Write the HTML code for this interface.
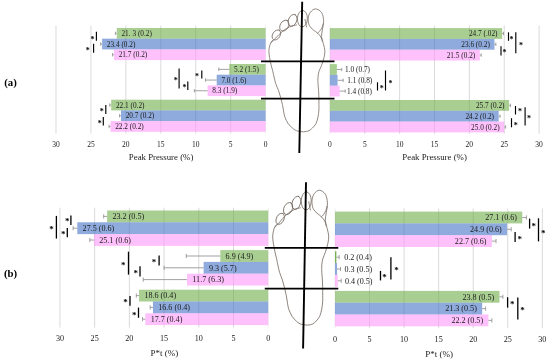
<!DOCTYPE html>
<html><head><meta charset="utf-8"><title>Figure</title>
<style>html,body{margin:0;padding:0;background:#fff}svg{display:block}text{font-family:"Liberation Serif",serif}</style></head><body>
<svg width="550" height="364" viewBox="0 0 550 364">
<rect width="550" height="364" fill="#fff"/>
<line x1="265.6" y1="25.5" x2="265.6" y2="133.5" stroke="#eeeeee" stroke-width="1"/>
<line x1="230.67" y1="25.5" x2="230.67" y2="133.5" stroke="#dadada" stroke-width="1"/>
<line x1="195.73" y1="25.5" x2="195.73" y2="133.5" stroke="#dadada" stroke-width="1"/>
<line x1="160.8" y1="25.5" x2="160.8" y2="133.5" stroke="#dadada" stroke-width="1"/>
<line x1="125.86" y1="25.5" x2="125.86" y2="133.5" stroke="#dadada" stroke-width="1"/>
<line x1="90.93" y1="25.5" x2="90.93" y2="133.5" stroke="#dadada" stroke-width="1"/>
<line x1="55.99" y1="25.5" x2="55.99" y2="133.5" stroke="#dadada" stroke-width="1"/>
<rect x="116.78" y="28" width="148.82" height="10.7" fill="#70ad47" fill-opacity="0.6"/>
<rect x="102.1" y="38.7" width="163.5" height="10.7" fill="#4472c4" fill-opacity="0.6"/>
<rect x="113.98" y="49.4" width="151.62" height="10.7" fill="#ff98fa" fill-opacity="0.6"/>
<rect x="229.27" y="64" width="36.33" height="10.7" fill="#70ad47" fill-opacity="0.6"/>
<rect x="216.69" y="74.7" width="48.91" height="10.7" fill="#4472c4" fill-opacity="0.6"/>
<rect x="207.61" y="85.4" width="57.99" height="10.7" fill="#ff98fa" fill-opacity="0.6"/>
<rect x="111.19" y="99.7" width="154.41" height="10.7" fill="#70ad47" fill-opacity="0.6"/>
<rect x="120.97" y="110.4" width="144.63" height="10.7" fill="#4472c4" fill-opacity="0.6"/>
<rect x="110.49" y="121.1" width="155.11" height="10.7" fill="#ff98fa" fill-opacity="0.6"/>
<path d="M116.78 33.35H115.38M115.38 31.65V35.05" stroke="#969696" stroke-width="0.9" fill="none"/>
<text x="121.48" y="35.88" font-size="7.67" textLength="30.41" lengthAdjust="spacingAndGlyphs" fill="#1a1a1a">21. 3 (0.2)</text>
<path d="M102.1 44.05H100.71M100.71 42.35V45.75" stroke="#969696" stroke-width="0.9" fill="none"/>
<text x="106.8" y="46.58" font-size="7.67" textLength="28.59" lengthAdjust="spacingAndGlyphs" fill="#1a1a1a">23.4 (0.2)</text>
<path d="M113.98 54.75H112.58M112.58 53.05V56.45" stroke="#969696" stroke-width="0.9" fill="none"/>
<text x="118.68" y="57.28" font-size="7.67" textLength="28.59" lengthAdjust="spacingAndGlyphs" fill="#1a1a1a">21.7 (0.2)</text>
<path d="M229.27 69.35H218.79M218.79 67.65V71.05" stroke="#969696" stroke-width="0.9" fill="none"/>
<text x="233.97" y="71.88" font-size="7.67" textLength="24.94" lengthAdjust="spacingAndGlyphs" fill="#1a1a1a">5.2 (1.5)</text>
<path d="M216.69 80.05H205.51M205.51 78.35V81.75" stroke="#969696" stroke-width="0.9" fill="none"/>
<text x="221.39" y="82.58" font-size="7.67" textLength="24.94" lengthAdjust="spacingAndGlyphs" fill="#1a1a1a">7.0 (1.6)</text>
<path d="M207.61 90.75H194.33M194.33 89.05V92.45" stroke="#969696" stroke-width="0.9" fill="none"/>
<text x="212.31" y="93.28" font-size="7.67" textLength="24.94" lengthAdjust="spacingAndGlyphs" fill="#1a1a1a">8.3 (1.9)</text>
<path d="M111.19 105.05H109.79M109.79 103.35V106.75" stroke="#969696" stroke-width="0.9" fill="none"/>
<text x="115.89" y="107.58" font-size="7.67" textLength="28.59" lengthAdjust="spacingAndGlyphs" fill="#1a1a1a">22.1 (0.2)</text>
<path d="M120.97 115.75H119.57M119.57 114.05V117.45" stroke="#969696" stroke-width="0.9" fill="none"/>
<text x="125.67" y="118.28" font-size="7.67" textLength="28.59" lengthAdjust="spacingAndGlyphs" fill="#1a1a1a">20.7 (0.2)</text>
<path d="M110.49 126.45H109.09M109.09 124.75V128.15" stroke="#969696" stroke-width="0.9" fill="none"/>
<text x="115.19" y="128.98" font-size="7.67" textLength="28.59" lengthAdjust="spacingAndGlyphs" fill="#1a1a1a">22.2 (0.2)</text>
<text x="265.6" y="146.67" font-size="7.5" text-anchor="middle" fill="#1a1a1a">0</text>
<text x="230.67" y="146.67" font-size="7.5" text-anchor="middle" fill="#1a1a1a">5</text>
<text x="195.73" y="146.67" font-size="7.5" text-anchor="middle" fill="#1a1a1a">10</text>
<text x="160.8" y="146.67" font-size="7.5" text-anchor="middle" fill="#1a1a1a">15</text>
<text x="125.86" y="146.67" font-size="7.5" text-anchor="middle" fill="#1a1a1a">20</text>
<text x="90.93" y="146.67" font-size="7.5" text-anchor="middle" fill="#1a1a1a">25</text>
<text x="55.99" y="146.67" font-size="7.5" text-anchor="middle" fill="#1a1a1a">30</text>
<text x="161.1" y="159.94" font-size="8.8" text-anchor="middle" fill="#1a1a1a">Peak Pressure (%)</text>
<line x1="329.9" y1="25.5" x2="329.9" y2="133.8" stroke="#eeeeee" stroke-width="1"/>
<line x1="364.76" y1="25.5" x2="364.76" y2="133.8" stroke="#dadada" stroke-width="1"/>
<line x1="399.63" y1="25.5" x2="399.63" y2="133.8" stroke="#dadada" stroke-width="1"/>
<line x1="434.5" y1="25.5" x2="434.5" y2="133.8" stroke="#dadada" stroke-width="1"/>
<line x1="469.36" y1="25.5" x2="469.36" y2="133.8" stroke="#dadada" stroke-width="1"/>
<line x1="504.22" y1="25.5" x2="504.22" y2="133.8" stroke="#dadada" stroke-width="1"/>
<line x1="539.09" y1="25.5" x2="539.09" y2="133.8" stroke="#dadada" stroke-width="1"/>
<rect x="329.9" y="28.1" width="172.23" height="10.8" fill="#70ad47" fill-opacity="0.6"/>
<rect x="329.9" y="38.9" width="164.56" height="10.8" fill="#4472c4" fill-opacity="0.6"/>
<rect x="329.9" y="49.7" width="149.92" height="10.8" fill="#ff98fa" fill-opacity="0.6"/>
<rect x="329.9" y="64.1" width="6.97" height="10.8" fill="#70ad47" fill-opacity="0.6"/>
<rect x="329.9" y="74.9" width="7.67" height="10.8" fill="#4472c4" fill-opacity="0.6"/>
<rect x="329.9" y="85.7" width="9.76" height="10.8" fill="#ff98fa" fill-opacity="0.6"/>
<rect x="329.9" y="100" width="179.21" height="10.8" fill="#70ad47" fill-opacity="0.6"/>
<rect x="329.9" y="110.8" width="168.75" height="10.8" fill="#4472c4" fill-opacity="0.6"/>
<rect x="329.9" y="121.6" width="174.32" height="10.8" fill="#ff98fa" fill-opacity="0.6"/>
<path d="M502.13 33.5H503.53M503.53 31.8V35.2" stroke="#969696" stroke-width="0.9" fill="none"/>
<text x="497.53" y="36.03" font-size="7.67" textLength="28.59" lengthAdjust="spacingAndGlyphs" text-anchor="end" fill="#1a1a1a">24.7 (.02)</text>
<path d="M494.46 44.3H495.86M495.86 42.6V46" stroke="#969696" stroke-width="0.9" fill="none"/>
<text x="489.86" y="46.83" font-size="7.67" textLength="28.59" lengthAdjust="spacingAndGlyphs" text-anchor="end" fill="#1a1a1a">23.6 (0.2)</text>
<path d="M479.82 55.1H481.21M481.21 53.4V56.8" stroke="#969696" stroke-width="0.9" fill="none"/>
<text x="475.22" y="57.63" font-size="7.67" textLength="28.59" lengthAdjust="spacingAndGlyphs" text-anchor="end" fill="#1a1a1a">21.5 (0.2)</text>
<path d="M336.87 69.5H341.75M341.75 67.8V71.2" stroke="#969696" stroke-width="0.9" fill="none"/>
<text x="345.1" y="72.03" font-size="7.67" textLength="24.94" lengthAdjust="spacingAndGlyphs" fill="#1a1a1a">1.0 (0.7)</text>
<path d="M337.57 80.3H343.15M343.15 78.6V82" stroke="#969696" stroke-width="0.9" fill="none"/>
<text x="347.3" y="82.83" font-size="7.67" textLength="24.94" lengthAdjust="spacingAndGlyphs" fill="#1a1a1a">1.1 (0.8)</text>
<path d="M339.66 91.1H345.24M345.24 89.4V92.8" stroke="#969696" stroke-width="0.9" fill="none"/>
<text x="347" y="93.63" font-size="7.67" textLength="24.94" lengthAdjust="spacingAndGlyphs" fill="#1a1a1a">1.4 (0.8)</text>
<path d="M509.11 105.4H510.5M510.5 103.7V107.1" stroke="#969696" stroke-width="0.9" fill="none"/>
<text x="504.51" y="107.93" font-size="7.67" textLength="28.59" lengthAdjust="spacingAndGlyphs" text-anchor="end" fill="#1a1a1a">25.7 (0.2)</text>
<path d="M498.65 116.2H500.04M500.04 114.5V117.9" stroke="#969696" stroke-width="0.9" fill="none"/>
<text x="494.05" y="118.73" font-size="7.67" textLength="28.59" lengthAdjust="spacingAndGlyphs" text-anchor="end" fill="#1a1a1a">24.2 (0.2)</text>
<path d="M504.22 127H505.62M505.62 125.3V128.7" stroke="#969696" stroke-width="0.9" fill="none"/>
<text x="499.62" y="129.53" font-size="7.67" textLength="28.59" lengthAdjust="spacingAndGlyphs" text-anchor="end" fill="#1a1a1a">25.0 (0.2)</text>
<text x="329.9" y="146.67" font-size="7.5" text-anchor="middle" fill="#1a1a1a">0</text>
<text x="364.76" y="146.67" font-size="7.5" text-anchor="middle" fill="#1a1a1a">5</text>
<text x="399.63" y="146.67" font-size="7.5" text-anchor="middle" fill="#1a1a1a">10</text>
<text x="434.5" y="146.67" font-size="7.5" text-anchor="middle" fill="#1a1a1a">15</text>
<text x="469.36" y="146.67" font-size="7.5" text-anchor="middle" fill="#1a1a1a">20</text>
<text x="504.22" y="146.67" font-size="7.5" text-anchor="middle" fill="#1a1a1a">25</text>
<text x="539.09" y="146.67" font-size="7.5" text-anchor="middle" fill="#1a1a1a">30</text>
<text x="434.6" y="160.24" font-size="8.8" text-anchor="middle" fill="#1a1a1a">Peak Pressure (%)</text>
<line x1="268.2" y1="207.7" x2="268.2" y2="327.6" stroke="#eeeeee" stroke-width="1"/>
<line x1="233.49" y1="207.7" x2="233.49" y2="327.6" stroke="#dadada" stroke-width="1"/>
<line x1="198.78" y1="207.7" x2="198.78" y2="327.6" stroke="#dadada" stroke-width="1"/>
<line x1="164.07" y1="207.7" x2="164.07" y2="327.6" stroke="#dadada" stroke-width="1"/>
<line x1="129.36" y1="207.7" x2="129.36" y2="327.6" stroke="#dadada" stroke-width="1"/>
<line x1="94.65" y1="207.7" x2="94.65" y2="327.6" stroke="#dadada" stroke-width="1"/>
<line x1="59.94" y1="207.7" x2="59.94" y2="327.6" stroke="#dadada" stroke-width="1"/>
<rect x="107.15" y="210.5" width="161.05" height="11.8" fill="#70ad47" fill-opacity="0.6"/>
<rect x="77.29" y="222.3" width="190.91" height="11.8" fill="#4472c4" fill-opacity="0.6"/>
<rect x="93.96" y="234.1" width="174.24" height="11.8" fill="#ff98fa" fill-opacity="0.6"/>
<rect x="220.3" y="250.1" width="47.9" height="11.8" fill="#70ad47" fill-opacity="0.6"/>
<rect x="203.64" y="261.9" width="64.56" height="11.8" fill="#4472c4" fill-opacity="0.6"/>
<rect x="186.98" y="273.7" width="81.22" height="11.8" fill="#ff98fa" fill-opacity="0.6"/>
<rect x="139.08" y="289.7" width="129.12" height="11.8" fill="#70ad47" fill-opacity="0.6"/>
<rect x="152.96" y="301.5" width="115.24" height="11.8" fill="#4472c4" fill-opacity="0.6"/>
<rect x="145.33" y="313.3" width="122.87" height="11.8" fill="#ff98fa" fill-opacity="0.6"/>
<path d="M107.15 216.4H103.67M103.67 214.3V218.5" stroke="#969696" stroke-width="0.9" fill="none"/>
<text x="112.45" y="219.21" font-size="8.51" textLength="31.72" lengthAdjust="spacingAndGlyphs" fill="#1a1a1a">23.2 (0.5)</text>
<path d="M77.29 228.2H73.13M73.13 226.1V230.3" stroke="#969696" stroke-width="0.9" fill="none"/>
<text x="82.59" y="231.01" font-size="8.51" textLength="31.72" lengthAdjust="spacingAndGlyphs" fill="#1a1a1a">27.5 (0.6)</text>
<path d="M93.96 240H89.79M89.79 237.9V242.1" stroke="#969696" stroke-width="0.9" fill="none"/>
<text x="99.26" y="242.81" font-size="8.51" textLength="31.72" lengthAdjust="spacingAndGlyphs" fill="#1a1a1a">25.1 (0.6)</text>
<path d="M220.3 256H186.28M186.28 253.9V258.1" stroke="#969696" stroke-width="0.9" fill="none"/>
<text x="225.6" y="258.81" font-size="8.51" textLength="27.67" lengthAdjust="spacingAndGlyphs" fill="#1a1a1a">6.9 (4.9)</text>
<path d="M203.64 267.8H164.07M164.07 265.7V269.9" stroke="#969696" stroke-width="0.9" fill="none"/>
<text x="208.94" y="270.61" font-size="8.51" textLength="27.67" lengthAdjust="spacingAndGlyphs" fill="#1a1a1a">9.3 (5.7)</text>
<path d="M186.98 279.6H143.24M143.24 277.5V281.7" stroke="#969696" stroke-width="0.9" fill="none"/>
<text x="192.28" y="282.41" font-size="8.51" textLength="31.72" lengthAdjust="spacingAndGlyphs" fill="#1a1a1a">11.7 (6.3)</text>
<path d="M139.08 295.6H136.3M136.3 293.5V297.7" stroke="#969696" stroke-width="0.9" fill="none"/>
<text x="144.38" y="298.41" font-size="8.51" textLength="31.72" lengthAdjust="spacingAndGlyphs" fill="#1a1a1a">18.6 (0.4)</text>
<path d="M152.96 307.4H150.19M150.19 305.3V309.5" stroke="#969696" stroke-width="0.9" fill="none"/>
<text x="158.26" y="310.21" font-size="8.51" textLength="31.72" lengthAdjust="spacingAndGlyphs" fill="#1a1a1a">16.6 (0.4)</text>
<path d="M145.33 319.2H142.55M142.55 317.1V321.3" stroke="#969696" stroke-width="0.9" fill="none"/>
<text x="150.63" y="322.01" font-size="8.51" textLength="31.72" lengthAdjust="spacingAndGlyphs" fill="#1a1a1a">17.7 (0.4)</text>
<text x="268.2" y="341.27" font-size="8.1" text-anchor="middle" fill="#1a1a1a">0</text>
<text x="233.49" y="341.27" font-size="8.1" text-anchor="middle" fill="#1a1a1a">5</text>
<text x="198.78" y="341.27" font-size="8.1" text-anchor="middle" fill="#1a1a1a">10</text>
<text x="164.07" y="341.27" font-size="8.1" text-anchor="middle" fill="#1a1a1a">15</text>
<text x="129.36" y="341.27" font-size="8.1" text-anchor="middle" fill="#1a1a1a">20</text>
<text x="94.65" y="341.27" font-size="8.1" text-anchor="middle" fill="#1a1a1a">25</text>
<text x="59.94" y="341.27" font-size="8.1" text-anchor="middle" fill="#1a1a1a">30</text>
<text x="164.4" y="356.2" font-size="9.0" text-anchor="middle" fill="#1a1a1a">P*t (%)</text>
<line x1="335" y1="208.5" x2="335" y2="328.3" stroke="#eeeeee" stroke-width="1"/>
<line x1="369.55" y1="208.5" x2="369.55" y2="328.3" stroke="#dadada" stroke-width="1"/>
<line x1="404.1" y1="208.5" x2="404.1" y2="328.3" stroke="#dadada" stroke-width="1"/>
<line x1="438.65" y1="208.5" x2="438.65" y2="328.3" stroke="#dadada" stroke-width="1"/>
<line x1="473.2" y1="208.5" x2="473.2" y2="328.3" stroke="#dadada" stroke-width="1"/>
<line x1="507.75" y1="208.5" x2="507.75" y2="328.3" stroke="#dadada" stroke-width="1"/>
<line x1="542.3" y1="208.5" x2="542.3" y2="328.3" stroke="#dadada" stroke-width="1"/>
<rect x="335" y="211.6" width="187.26" height="11.8" fill="#70ad47" fill-opacity="0.6"/>
<rect x="335" y="223.4" width="172.06" height="11.8" fill="#4472c4" fill-opacity="0.6"/>
<rect x="335" y="235.2" width="156.86" height="11.8" fill="#ff98fa" fill-opacity="0.6"/>
<rect x="335" y="251.3" width="1.38" height="11.8" fill="#70ad47" fill-opacity="0.95"/>
<rect x="335" y="263.1" width="2.07" height="11.8" fill="#4472c4" fill-opacity="0.6"/>
<rect x="335" y="274.9" width="2.76" height="11.8" fill="#ff98fa" fill-opacity="0.6"/>
<rect x="335" y="290.9" width="164.46" height="11.8" fill="#70ad47" fill-opacity="0.6"/>
<rect x="335" y="302.7" width="147.18" height="11.8" fill="#4472c4" fill-opacity="0.6"/>
<rect x="335" y="314.5" width="153.4" height="11.8" fill="#ff98fa" fill-opacity="0.6"/>
<path d="M522.26 217.5H526.41M526.41 215.4V219.6" stroke="#969696" stroke-width="0.9" fill="none"/>
<text x="516.96" y="220.31" font-size="8.51" textLength="31.72" lengthAdjust="spacingAndGlyphs" text-anchor="end" fill="#1a1a1a">27.1 (0.6)</text>
<path d="M507.06 229.3H511.21M511.21 227.2V231.4" stroke="#969696" stroke-width="0.9" fill="none"/>
<text x="501.76" y="232.11" font-size="8.51" textLength="31.72" lengthAdjust="spacingAndGlyphs" text-anchor="end" fill="#1a1a1a">24.9 (0.6)</text>
<path d="M491.86 241.1H496M496 239V243.2" stroke="#969696" stroke-width="0.9" fill="none"/>
<text x="486.56" y="243.91" font-size="8.51" textLength="31.72" lengthAdjust="spacingAndGlyphs" text-anchor="end" fill="#1a1a1a">22.7 (0.6)</text>
<path d="M336.38 257.2H339.15M339.15 255.1V259.3" stroke="#969696" stroke-width="0.9" fill="none"/>
<text x="344.2" y="260.01" font-size="8.51" textLength="27.67" lengthAdjust="spacingAndGlyphs" fill="#1a1a1a">0.2 (0.4)</text>
<path d="M337.07 269H340.53M340.53 266.9V271.1" stroke="#969696" stroke-width="0.9" fill="none"/>
<text x="344.5" y="271.81" font-size="8.51" textLength="27.67" lengthAdjust="spacingAndGlyphs" fill="#1a1a1a">0.3 (0.5)</text>
<path d="M337.76 280.8H341.22M341.22 278.7V282.9" stroke="#969696" stroke-width="0.9" fill="none"/>
<text x="344.9" y="283.61" font-size="8.51" textLength="27.67" lengthAdjust="spacingAndGlyphs" fill="#1a1a1a">0.4 (0.5)</text>
<path d="M499.46 296.8H502.91M502.91 294.7V298.9" stroke="#969696" stroke-width="0.9" fill="none"/>
<text x="494.16" y="299.61" font-size="8.51" textLength="31.72" lengthAdjust="spacingAndGlyphs" text-anchor="end" fill="#1a1a1a">23.8 (0.5)</text>
<path d="M482.18 308.6H485.64M485.64 306.5V310.7" stroke="#969696" stroke-width="0.9" fill="none"/>
<text x="476.88" y="311.41" font-size="8.51" textLength="31.72" lengthAdjust="spacingAndGlyphs" text-anchor="end" fill="#1a1a1a">21.3 (0.5)</text>
<path d="M488.4 320.4H491.86M491.86 318.3V322.5" stroke="#969696" stroke-width="0.9" fill="none"/>
<text x="483.1" y="323.21" font-size="8.51" textLength="31.72" lengthAdjust="spacingAndGlyphs" text-anchor="end" fill="#1a1a1a">22.2 (0.5)</text>
<text x="335" y="342.17" font-size="8.1" text-anchor="middle" fill="#1a1a1a">0</text>
<text x="369.55" y="342.17" font-size="8.1" text-anchor="middle" fill="#1a1a1a">5</text>
<text x="404.1" y="342.17" font-size="8.1" text-anchor="middle" fill="#1a1a1a">10</text>
<text x="438.65" y="342.17" font-size="8.1" text-anchor="middle" fill="#1a1a1a">15</text>
<text x="473.2" y="342.17" font-size="8.1" text-anchor="middle" fill="#1a1a1a">20</text>
<text x="507.75" y="342.17" font-size="8.1" text-anchor="middle" fill="#1a1a1a">25</text>
<text x="542.3" y="342.17" font-size="8.1" text-anchor="middle" fill="#1a1a1a">30</text>
<text x="439" y="356.8" font-size="9.0" text-anchor="middle" fill="#1a1a1a">P*t (%)</text>
<line x1="96.4" y1="31.7" x2="96.4" y2="40.8" stroke="#000" stroke-width="1.15"/>
<text x="90.45" y="41.85" font-size="8.0" font-weight="bold" fill="#000">*</text>
<line x1="93.6" y1="43.7" x2="93.6" y2="52.8" stroke="#000" stroke-width="1.15"/>
<text x="85.65" y="53.25" font-size="8.0" font-weight="bold" fill="#000">*</text>
<line x1="179.1" y1="68.6" x2="179.1" y2="88.6" stroke="#000" stroke-width="1.15"/>
<text x="173.85" y="82.95" font-size="8.0" font-weight="bold" fill="#000">*</text>
<line x1="201.8" y1="70.5" x2="201.8" y2="78.6" stroke="#000" stroke-width="1.15"/>
<text x="194.95" y="78.75" font-size="8.0" font-weight="bold" fill="#000">*</text>
<line x1="187.8" y1="81.4" x2="187.8" y2="90.1" stroke="#000" stroke-width="1.15"/>
<text x="182.55" y="90.15" font-size="8.0" font-weight="bold" fill="#000">*</text>
<line x1="105.8" y1="105.1" x2="105.8" y2="114" stroke="#000" stroke-width="1.15"/>
<text x="99.85" y="114.25" font-size="8.0" font-weight="bold" fill="#000">*</text>
<line x1="103.3" y1="116.9" x2="103.3" y2="125.5" stroke="#000" stroke-width="1.15"/>
<text x="97.65" y="125.55" font-size="8.0" font-weight="bold" fill="#000">*</text>
<line x1="508.5" y1="32.3" x2="508.5" y2="40.8" stroke="#000" stroke-width="1.15"/>
<text x="509.55" y="41.65" font-size="8.0" font-weight="bold" fill="#000">*</text>
<line x1="515.8" y1="32.3" x2="515.8" y2="53.2" stroke="#000" stroke-width="1.15"/>
<text x="519.05" y="47.85" font-size="8.0" font-weight="bold" fill="#000">*</text>
<line x1="501" y1="46.3" x2="501" y2="55.4" stroke="#000" stroke-width="1.15"/>
<text x="502.55" y="55.15" font-size="8.0" font-weight="bold" fill="#000">*</text>
<line x1="385.5" y1="70.5" x2="385.5" y2="90.5" stroke="#000" stroke-width="1.15"/>
<text x="388.55" y="86.05" font-size="8.0" font-weight="bold" fill="#000">*</text>
<line x1="377.5" y1="82.3" x2="377.5" y2="90.5" stroke="#000" stroke-width="1.15"/>
<text x="379.85" y="90.95" font-size="8.0" font-weight="bold" fill="#000">*</text>
<line x1="515.5" y1="106" x2="515.5" y2="114.5" stroke="#000" stroke-width="1.15"/>
<text x="518.05" y="114.25" font-size="8.0" font-weight="bold" fill="#000">*</text>
<line x1="525.1" y1="107.3" x2="525.1" y2="125.5" stroke="#000" stroke-width="1.15"/>
<text x="527.05" y="120.65" font-size="8.0" font-weight="bold" fill="#000">*</text>
<line x1="511.5" y1="118.2" x2="511.5" y2="127.3" stroke="#000" stroke-width="1.15"/>
<text x="513.85" y="128.25" font-size="8.0" font-weight="bold" fill="#000">*</text>
<line x1="56.4" y1="215.9" x2="56.4" y2="238.6" stroke="#000" stroke-width="1.3"/>
<text x="49.3" y="232.38" font-size="9.0" font-weight="bold" fill="#000">*</text>
<line x1="70.9" y1="215.4" x2="70.9" y2="225" stroke="#000" stroke-width="1.3"/>
<text x="65.1" y="224.18" font-size="9.0" font-weight="bold" fill="#000">*</text>
<line x1="67.3" y1="228.1" x2="67.3" y2="237.2" stroke="#000" stroke-width="1.3"/>
<text x="61.1" y="237.48" font-size="9.0" font-weight="bold" fill="#000">*</text>
<line x1="128.5" y1="251.7" x2="128.5" y2="274.6" stroke="#000" stroke-width="1.3"/>
<text x="121.1" y="267.88" font-size="9.0" font-weight="bold" fill="#000">*</text>
<line x1="159.1" y1="255.4" x2="159.1" y2="265.5" stroke="#000" stroke-width="1.3"/>
<text x="151.8" y="265.18" font-size="9.0" font-weight="bold" fill="#000">*</text>
<line x1="140" y1="266.3" x2="140" y2="276.5" stroke="#000" stroke-width="1.3"/>
<text x="133.4" y="276.08" font-size="9.0" font-weight="bold" fill="#000">*</text>
<line x1="130" y1="296" x2="130" y2="305.8" stroke="#000" stroke-width="1.3"/>
<text x="123.3" y="305.08" font-size="9.0" font-weight="bold" fill="#000">*</text>
<line x1="138.5" y1="307.6" x2="138.5" y2="317.8" stroke="#000" stroke-width="1.3"/>
<text x="132" y="317.78" font-size="9.0" font-weight="bold" fill="#000">*</text>
<line x1="529.6" y1="218.6" x2="529.6" y2="228.6" stroke="#000" stroke-width="1.3"/>
<text x="531.4" y="228.78" font-size="9.0" font-weight="bold" fill="#000">*</text>
<line x1="538.5" y1="218.3" x2="538.5" y2="241.4" stroke="#000" stroke-width="1.3"/>
<text x="540.9" y="236.08" font-size="9.0" font-weight="bold" fill="#000">*</text>
<line x1="515.1" y1="231.9" x2="515.1" y2="241.9" stroke="#000" stroke-width="1.3"/>
<text x="517.4" y="242.38" font-size="9.0" font-weight="bold" fill="#000">*</text>
<line x1="390.9" y1="257.3" x2="390.9" y2="279.6" stroke="#000" stroke-width="1.3"/>
<text x="394.2" y="273.38" font-size="9.0" font-weight="bold" fill="#000">*</text>
<line x1="380.5" y1="270.9" x2="380.5" y2="280.4" stroke="#000" stroke-width="1.3"/>
<text x="382.3" y="280.18" font-size="9.0" font-weight="bold" fill="#000">*</text>
<line x1="507.6" y1="297.3" x2="507.6" y2="307.6" stroke="#000" stroke-width="1.3"/>
<text x="510" y="307.38" font-size="9.0" font-weight="bold" fill="#000">*</text>
<line x1="517.8" y1="297.6" x2="517.8" y2="319.6" stroke="#000" stroke-width="1.3"/>
<text x="520.2" y="313.38" font-size="9.0" font-weight="bold" fill="#000">*</text>
<text x="4.2" y="85.6" font-size="10.8" font-weight="bold" fill="#000">(a)</text>
<text x="3.9" y="276.5" font-size="10.8" font-weight="bold" fill="#000">(b)</text>
<g transform="translate(0 0) scale(1 1) translate(0 0)" fill="none" stroke="#776c64" stroke-width="0.8" stroke-linecap="round" stroke-linejoin="round">
<path d="M272.6 40.3C272.22 40.88 270.92 42.07 270.3 43.8C269.68 45.53 269.02 48.4 268.9 50.7C268.78 53 269.25 55.3 269.6 57.6C269.95 59.9 270.47 62.2 271 64.5C271.53 66.8 272.25 69.15 272.8 71.4C273.35 73.65 273.8 75.93 274.3 78C274.8 80.07 275.08 81.68 275.8 83.8C276.52 85.92 277.78 88.4 278.6 90.7C279.42 93 280.07 95.3 280.7 97.6C281.33 99.9 281.92 102.27 282.4 104.5C282.88 106.73 283.2 108.93 283.6 111C284 113.07 284.02 114.77 284.8 116.9C285.58 119.03 287.03 121.95 288.3 123.8C289.57 125.65 291.03 126.85 292.4 128C293.77 129.15 294.65 130.07 296.5 130.7C298.35 131.33 301.42 131.8 303.5 131.8C305.58 131.8 307.52 131.33 309 130.7C310.48 130.07 311.25 129.15 312.4 128C313.55 126.85 314.97 125.65 315.9 123.8C316.83 121.95 317.5 119.2 318 116.9C318.5 114.6 318.75 112.07 318.9 110C319.05 107.93 318.9 106.57 318.9 104.5C318.9 102.43 318.95 99.9 318.9 97.6C318.85 95.3 318.75 93 318.6 90.7C318.45 88.4 318.1 86.1 318 83.8C317.9 81.5 317.83 78.97 318 76.9C318.17 74.83 318.42 73.3 319 71.4C319.58 69.5 320.67 67.8 321.5 65.5C322.33 63.2 323.43 60.07 324 57.6C324.57 55.13 325 53 324.9 50.7C324.8 48.4 323.97 46.17 323.4 43.8C322.83 41.43 321.65 38.92 321.5 36.5C321.35 34.08 322.15 31.97 322.5 29.3C322.85 26.63 323.75 23.28 323.6 20.5C323.45 17.72 322.93 14.53 321.6 12.6C320.27 10.67 317.47 8.97 315.6 8.9C313.73 8.83 311.63 10.63 310.4 12.2C309.17 13.77 308.38 16.08 308.2 18.3C308.02 20.52 308.47 23.58 309.3 25.5C310.13 27.42 311.82 28.53 313.2 29.8C314.58 31.07 316.32 31.9 317.6 33.1C318.88 34.3 320.12 35.65 320.9 37C321.68 38.35 322.07 40.5 322.3 41.2"/>
<path d="M296.5 24.9C295.35 25.23 291.9 25.87 289.6 26.9C287.3 27.93 285 29.25 282.7 31.1C280.4 32.95 277.75 36.05 275.8 38C273.85 39.95 271.8 42 271 42.8"/>
<path d="M305 19.4C305.13 20.08 305.53 22.23 305.8 23.5C306.07 24.77 306.47 26.42 306.6 27"/>
<path d="M323.4 23.5C323.17 24.17 322.63 26.2 322 27.5C321.37 28.8 320.33 30.37 319.6 31.3C318.87 32.23 317.93 32.8 317.6 33.1"/>
<ellipse cx="276.4" cy="34.9" rx="5.5" ry="3.7" transform="rotate(-58 276.4 34.9)"/>
<ellipse cx="284.3" cy="25.6" rx="5.9" ry="4.1" transform="rotate(-60 284.3 25.6)"/>
<ellipse cx="292.6" cy="20.3" rx="6.2" ry="4.1" transform="rotate(-68 292.6 20.3)"/>
<ellipse cx="302.4" cy="18.6" rx="8.3" ry="5.0" transform="rotate(-88 302.4 18.6)"/>
</g>
<g transform="translate(3.8 182.3) scale(1 1.098) translate(0 -1.7)" fill="none" stroke="#776c64" stroke-width="0.8" stroke-linecap="round" stroke-linejoin="round">
<path d="M272.6 40.3C272.22 40.88 270.92 42.07 270.3 43.8C269.68 45.53 269.02 48.4 268.9 50.7C268.78 53 269.25 55.3 269.6 57.6C269.95 59.9 270.47 62.2 271 64.5C271.53 66.8 272.25 69.15 272.8 71.4C273.35 73.65 273.8 75.93 274.3 78C274.8 80.07 275.08 81.68 275.8 83.8C276.52 85.92 277.78 88.4 278.6 90.7C279.42 93 280.07 95.3 280.7 97.6C281.33 99.9 281.92 102.27 282.4 104.5C282.88 106.73 283.2 108.93 283.6 111C284 113.07 284.02 114.77 284.8 116.9C285.58 119.03 287.03 121.95 288.3 123.8C289.57 125.65 291.03 126.85 292.4 128C293.77 129.15 294.65 130.07 296.5 130.7C298.35 131.33 301.42 131.8 303.5 131.8C305.58 131.8 307.52 131.33 309 130.7C310.48 130.07 311.25 129.15 312.4 128C313.55 126.85 314.97 125.65 315.9 123.8C316.83 121.95 317.5 119.2 318 116.9C318.5 114.6 318.75 112.07 318.9 110C319.05 107.93 318.9 106.57 318.9 104.5C318.9 102.43 318.95 99.9 318.9 97.6C318.85 95.3 318.75 93 318.6 90.7C318.45 88.4 318.1 86.1 318 83.8C317.9 81.5 317.83 78.97 318 76.9C318.17 74.83 318.42 73.3 319 71.4C319.58 69.5 320.67 67.8 321.5 65.5C322.33 63.2 323.43 60.07 324 57.6C324.57 55.13 325 53 324.9 50.7C324.8 48.4 323.97 46.17 323.4 43.8C322.83 41.43 321.65 38.92 321.5 36.5C321.35 34.08 322.15 31.97 322.5 29.3C322.85 26.63 323.75 23.28 323.6 20.5C323.45 17.72 322.93 14.53 321.6 12.6C320.27 10.67 317.47 8.97 315.6 8.9C313.73 8.83 311.63 10.63 310.4 12.2C309.17 13.77 308.38 16.08 308.2 18.3C308.02 20.52 308.47 23.58 309.3 25.5C310.13 27.42 311.82 28.53 313.2 29.8C314.58 31.07 316.32 31.9 317.6 33.1C318.88 34.3 320.12 35.65 320.9 37C321.68 38.35 322.07 40.5 322.3 41.2"/>
<path d="M296.5 24.9C295.35 25.23 291.9 25.87 289.6 26.9C287.3 27.93 285 29.25 282.7 31.1C280.4 32.95 277.75 36.05 275.8 38C273.85 39.95 271.8 42 271 42.8"/>
<path d="M305 19.4C305.13 20.08 305.53 22.23 305.8 23.5C306.07 24.77 306.47 26.42 306.6 27"/>
<path d="M323.4 23.5C323.17 24.17 322.63 26.2 322 27.5C321.37 28.8 320.33 30.37 319.6 31.3C318.87 32.23 317.93 32.8 317.6 33.1"/>
<ellipse cx="276.4" cy="34.9" rx="5.5" ry="3.7" transform="rotate(-58 276.4 34.9)"/>
<ellipse cx="284.3" cy="25.6" rx="5.9" ry="4.1" transform="rotate(-60 284.3 25.6)"/>
<ellipse cx="292.6" cy="20.3" rx="6.2" ry="4.1" transform="rotate(-68 292.6 20.3)"/>
<ellipse cx="302.4" cy="18.6" rx="8.3" ry="5.0" transform="rotate(-88 302.4 18.6)"/>
</g>
<line x1="302.2" y1="1.7" x2="299.3" y2="153" stroke="#000" stroke-width="1.9"/>
<line x1="261" y1="61.4" x2="334.5" y2="61.4" stroke="#000" stroke-width="1.75"/>
<line x1="261" y1="98.6" x2="334.5" y2="98.6" stroke="#000" stroke-width="1.75"/>
<line x1="306" y1="182.3" x2="303.1" y2="348.43" stroke="#000" stroke-width="1.9"/>
<line x1="264.8" y1="247.85" x2="338.3" y2="247.85" stroke="#000" stroke-width="1.75"/>
<line x1="264.8" y1="288.7" x2="338.3" y2="288.7" stroke="#000" stroke-width="1.75"/>
</svg></body></html>
